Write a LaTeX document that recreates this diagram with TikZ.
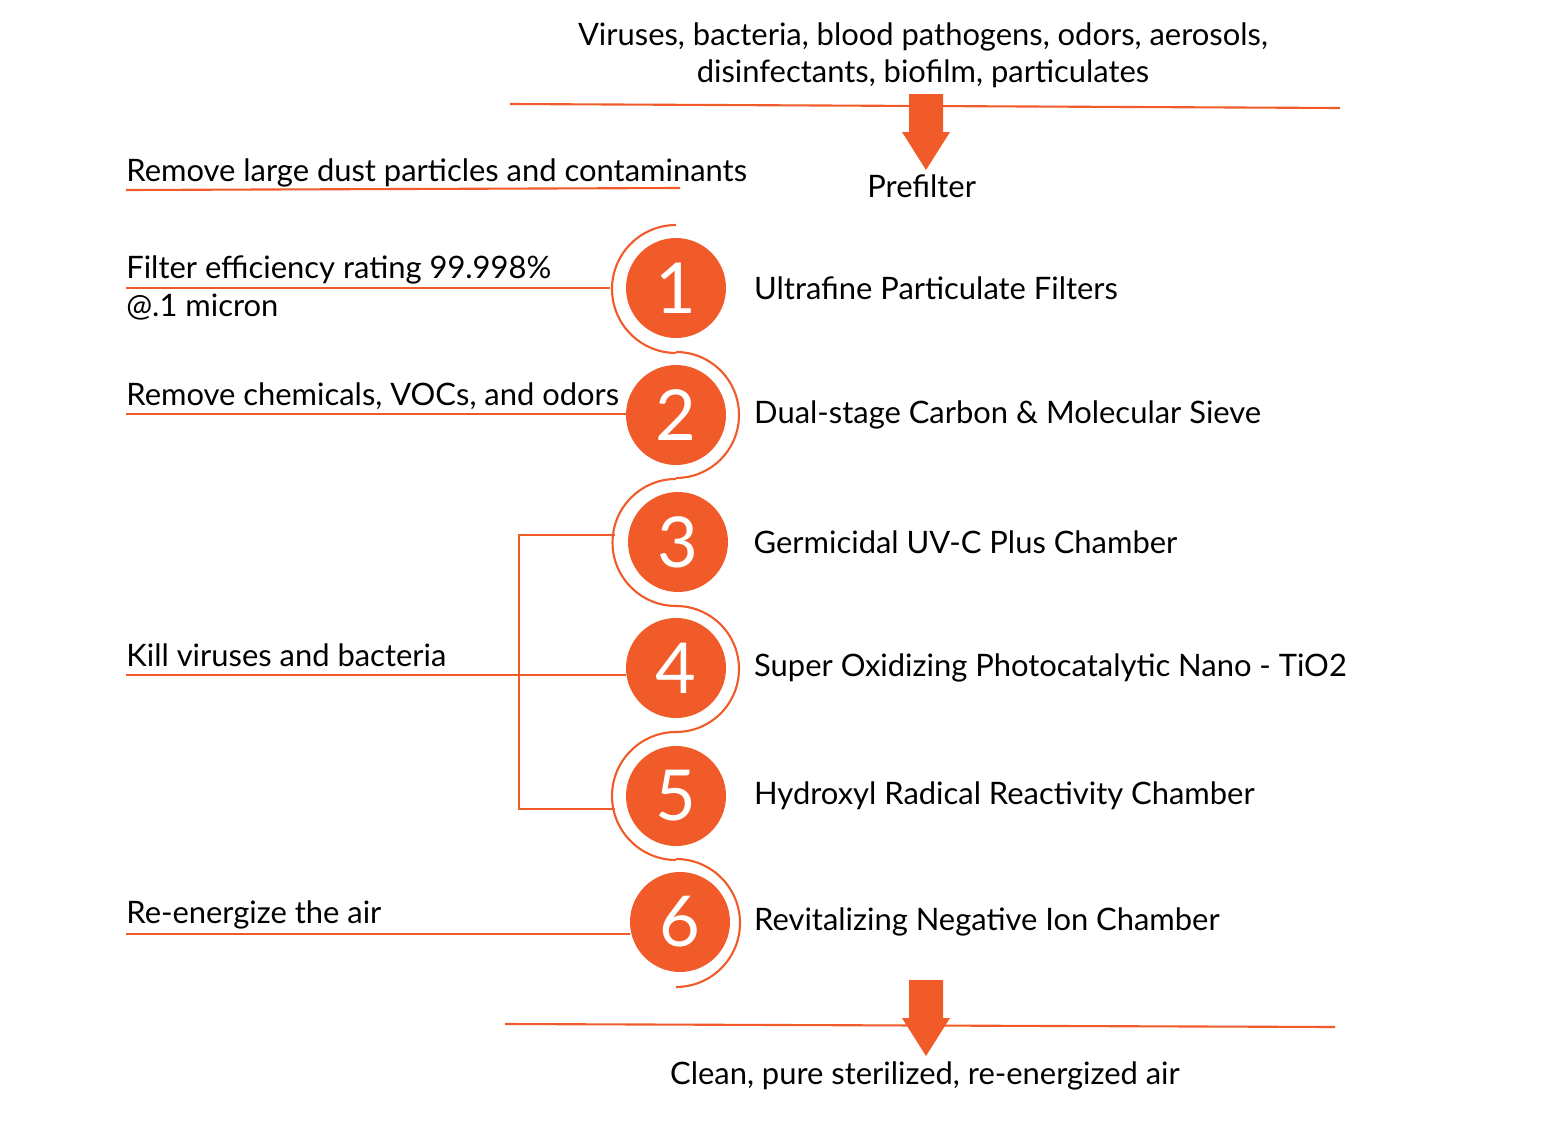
\documentclass[tikz,border=0pt]{standalone}
\usepackage{fontspec}
\setmainfont{Lato}
\usetikzlibrary{positioning}
\definecolor{filterorange}{HTML}{F15A29}
\begin{document}
\begin{tikzpicture}[x=0.02cm,y=-0.02cm]
\tikzstyle{stepdot}=[fill=filterorange,shape=circle,minimum size=2cm,inner sep=0pt,text=white,font=\fontsize{40}{42}\selectfont];
\tikzstyle{lbl}=[anchor=base west,inner sep=0pt,font=\fontsize{17.6}{21}\selectfont];
\tikzstyle{oline}=[draw=filterorange,line width=1.2pt];
\tikzstyle{bigarrow}=[fill=filterorange];

\useasboundingbox (0,0) rectangle (1553,1140);

% top input
\node (input) [align=center,font=\fontsize{17.6}{21}\selectfont] at (923,55) {Viruses, bacteria, blood pathogens, odors, aerosols,\\disinfectants, biofilm, particulates};
\coordinate (tl) at (510,104);
\coordinate (tr) at (1340,108);
\draw [oline] (tl) -- (tr);
\fill [bigarrow] (909,94) -- (943,94) -- (943,132) -- (950,132) -- (926,170) -- (902,132) -- (909,132) -- cycle;
\node (pre) [lbl] at (867,197) {Prefilter};
\node (dust) [lbl] at (126,181) {Remove large dust particles and contaminants};
\coordinate (dustl) at (126,190);
\coordinate (dustr) at (680,188);
\draw [oline] (dustl) -- (dustr);

% steps
\node [stepdot] (s1) at (676,288) {1};
\node [stepdot] (s2) at (676,415) {2};
\node [stepdot] (s3) at (678,542) {3};
\node [stepdot] (s4) at (676,668) {4};
\node [stepdot] (s5) at (676,796) {5};
\node [stepdot] (s6) at (680,922) {6};

\draw [oline] (676,225) arc (90:270:1.28cm);
\draw [oline] (676,352) arc (90:-90:1.26cm);
\draw [oline] (676,479) arc (90:270:1.27cm);
\draw [oline] (676,606) arc (90:-90:1.26cm);
\draw [oline] (676,732) arc (90:270:1.28cm);
\draw [oline] (676,859) arc (90:-90:1.28cm);

\node (t1) [lbl,right=0.55cm of s1,anchor=west] {Ultrafine Particulate Filters};
\node (t2) [lbl,right=0.55cm of s2,anchor=west] {Dual-stage Carbon \& Molecular Sieve};
\node (t3) [lbl,right=0.5cm of s3,anchor=west] {Germicidal UV-C Plus Chamber};
\node (t4) [lbl,right=0.55cm of s4,anchor=west] {Super Oxidizing Photocatalytic Nano - TiO2};
\node (t5) [lbl,right=0.55cm of s5,anchor=west] {Hydroxyl Radical Reactivity Chamber};
\node (t6) [lbl,right=0.47cm of s6,anchor=west] {Revitalizing Negative Ion Chamber};

% left notes
\node (n1) [lbl] at (126,278) {Filter efficiency rating 99.998\%};
\node (n1b) [lbl] at (126,316) {@.1 micron};
\coordinate (c1) at (126,288);
\draw [oline] (c1) -- (610,288);
\node (n2) [lbl] at (126,405) {Remove chemicals, VOCs, and odors};
\coordinate (c2) at (126,414);
\draw [oline] (c2) -- (c2 -| s2.west);
\node (n3) [lbl] at (126,666) {Kill viruses and bacteria};
\coordinate (c3) at (126,675);
\draw [oline] (c3) -- (c3 -| s4.west);
\coordinate (b3) at (519,535);
\coordinate (b5) at (519,809);
\draw [oline] (615,535) -- (b3) -- (b5) -- (615,809);
\node (n6) [lbl] at (126,923) {Re-energize the air};
\coordinate (c6) at (126,934);
\draw [oline] (c6) -- (c6 -| s6.west);

% output
\coordinate (bl) at (505,1024);
\coordinate (br) at (1335,1027);
\draw [oline] (bl) -- (br);
\fill [bigarrow] (909,980) -- (943,980) -- (943,1018) -- (950,1018) -- (926,1056) -- (902,1018) -- (909,1018) -- cycle;
\node (out) [font=\fontsize{17.6}{21}\selectfont] at (925,1076) {Clean, pure sterilized, re-energized air};
\end{tikzpicture}
\end{document}
